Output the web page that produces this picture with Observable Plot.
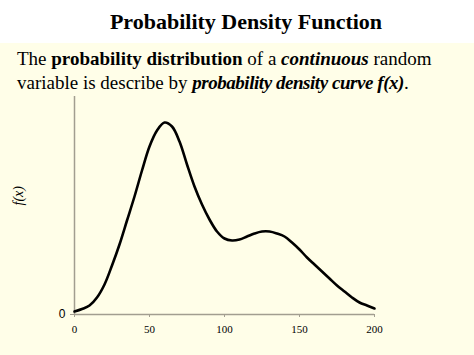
<!DOCTYPE html>
<html>
<head>
<meta charset="utf-8">
<script src="https://cdn.jsdelivr.net/npm/d3@7"></script>
<script src="https://cdn.jsdelivr.net/npm/@observablehq/plot@0.6"></script>
<style>
  html, body { margin: 0; padding: 0; background: #ffffff; }
  #page { position: relative; width: 474px; height: 355px; overflow: hidden; font-family: "Liberation Serif", "Times New Roman", serif; }
  #title { position: absolute; left: 0; top: 0; width: 474px; height: 43px; text-align: center; font-weight: bold; font-size: 22px; line-height: 43px; padding-left: 18px; box-sizing: border-box; color: #000; }
  #panel { position: absolute; left: 0; top: 43px; width: 474px; height: 312px; background: #fffee8; }
  #text { position: absolute; left: 17px; top: 4px; font-size: 19px; line-height: 24px; color: #000; white-space: nowrap; }
  #text .bi2 { letter-spacing: -0.45px; }
  #chart { position: absolute; left: 0; top: 47px; }
</style>
</head>
<body>
<div id="page">
  <div id="title">Probability Density Function</div>
  <div id="panel">
    <div id="text">The <b>probability distribution</b> of a <b><i>continuous</i></b> random<br>variable is describe by <b><i class="bi2">probability density curve f(x)</i></b>.</div>
    <div id="chart"></div>
  </div>
</div>
<script>
// x values and f(x) (in plot-height units, 0..218)
const xs = [0,5,10,15,20,25,30,35,40,45,50,55,60,65,70,75,80,85,90,95,100,105,110,115,120,125,130,135,140,145,150,155,160,165,170,175,180,185,190,195,200];
const fx = [3,5.5,9,17,30,49,70,94,118,144,168,184,192,188,173,150,128,110,95,83,76,74,75,78,81,83,83,81,78,72,65,57,50,43,36,29,23,17,12,9,6];
const xTicks = [0,50,100,150,200];
const yTicks = [0];
const yLabel = "f(x)";

const data = xs.map((x, i) => ({x, y: fx[i]}));
const axisColor = "#a29e90";

const chart = Plot.plot({
  width: 474,
  height: 265,
  marginLeft: 74,
  marginRight: 100,
  marginTop: 6,
  marginBottom: 41,
  style: {background: "transparent", overflow: "visible"},
  x: {domain: [0, 200]},
  y: {domain: [0, 218]},
  marks: [
    Plot.ruleY([0], {stroke: axisColor, strokeWidth: 1.5}),
    Plot.ruleX([0], {stroke: axisColor, strokeWidth: 1.5}),
    Plot.axisX({ticks: xTicks, tickSize: 3, tickPadding: 8, stroke: axisColor, fill: "#000", fontFamily: "Liberation Serif", fontSize: 11, label: null}),
    Plot.axisY({ticks: yTicks, tickSize: 4, tickPadding: 5, stroke: axisColor, fill: "#000", fontFamily: "Liberation Sans", fontSize: 12, label: null}),
    Plot.text([yLabel], {frameAnchor: "left", rotate: -90, dx: -56, fontStyle: "italic", fontFamily: "Liberation Serif", fontSize: 14, fill: "#000"}),
    Plot.line(data, {x: "x", y: "y", curve: "catmull-rom", stroke: "#000", strokeWidth: 2.6})
  ]
});
document.getElementById("chart").appendChild(chart);
</script>
</body>
</html>
